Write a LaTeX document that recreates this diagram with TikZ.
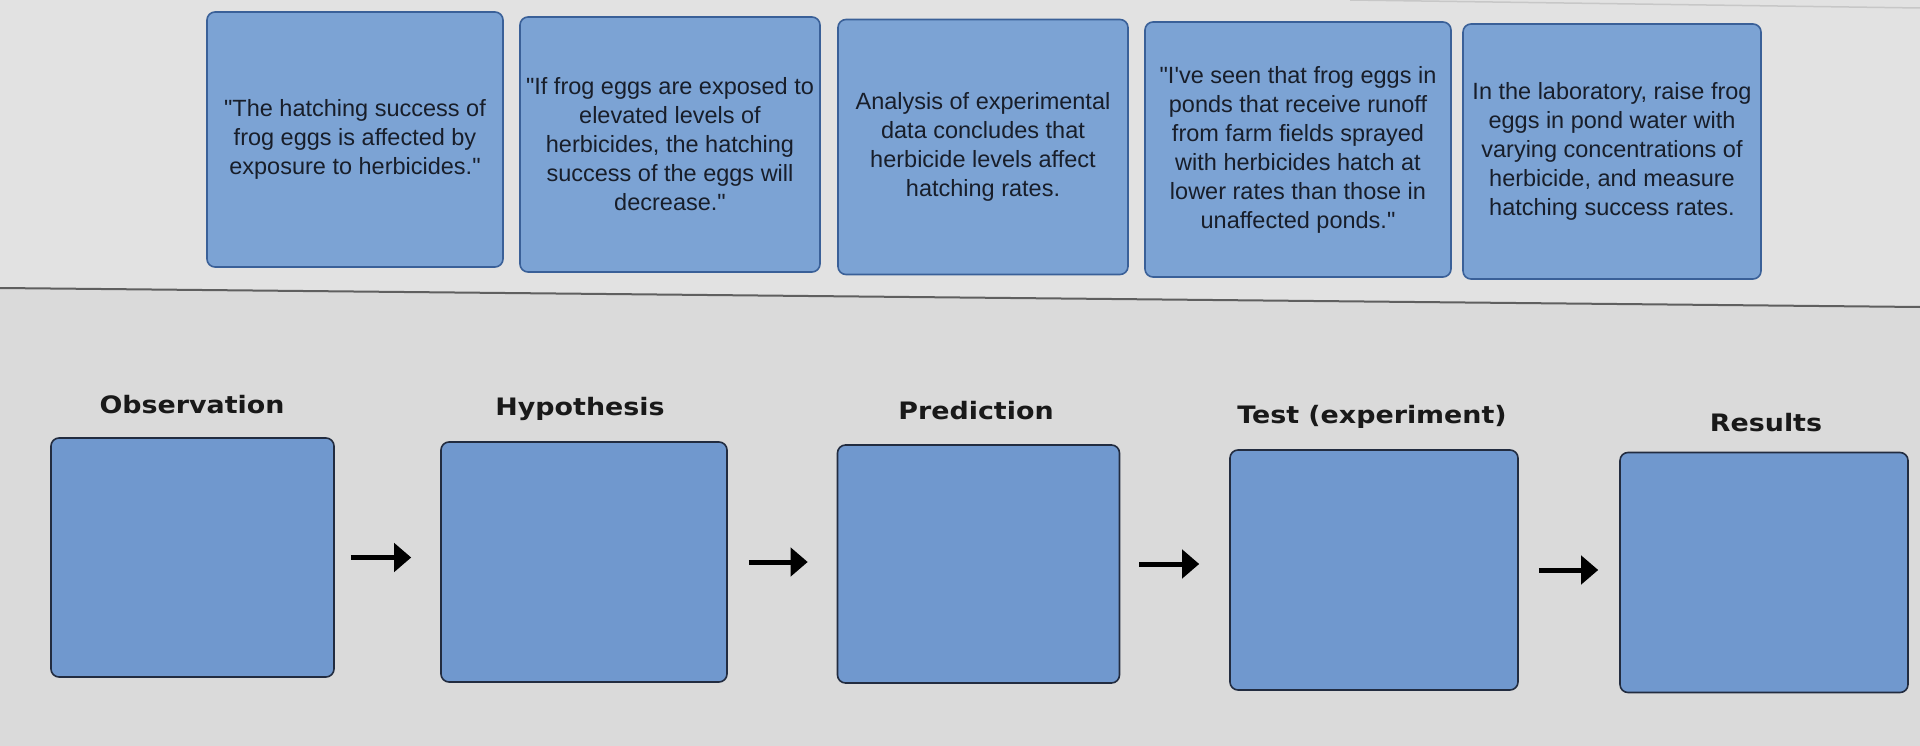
\documentclass[tikz,border=0pt]{standalone}
\usepackage{fontspec}
\setmainfont{Liberation Sans}
\newfontfamily\cardfont{Liberation Sans}
\newfontfamily\headfont[FakeStretch=1.12]{DejaVu Sans}
\usetikzlibrary{arrows.meta}
\definecolor{bgtop}{RGB}{226,226,226}
\definecolor{bgbot}{RGB}{218,218,218}
\definecolor{cardfill}{RGB}{124,163,212}
\definecolor{carddraw}{RGB}{58,96,152}
\definecolor{boxfill}{RGB}{112,152,206}
\definecolor{boxdraw}{RGB}{34,44,64}
\definecolor{cardtext}{RGB}{24,30,42}
\definecolor{sepline}{RGB}{95,95,95}
\begin{document}
\begin{tikzpicture}[x=1pt,y=-1pt,
  card/.style={draw=carddraw, line width=1.6pt, fill=cardfill, rounded corners=8pt,
    minimum width=296pt, minimum height=255pt, inner sep=0pt, align=center,
    text=cardtext, font=\cardfont\fontsize{23.5pt}{29pt}\selectfont},
  slot/.style={draw=boxdraw, line width=1.6pt, fill=boxfill, rounded corners=8pt,
    inner sep=0pt},
  head/.style={anchor=base, text=black!90, font=\headfont\bfseries\fontsize{24pt}{28pt}\selectfont},
  arr/.style={line width=5pt, -{Triangle[length=17pt,width=28pt]}}
]
\useasboundingbox (0,0) rectangle (1920,746);
\fill[bgbot] (0,0) rectangle (1920,746);
\fill[bgtop] (0,0) -- (1920,0) -- (1920,307) -- (0,288) -- cycle;
\draw[black!22, line width=1.5pt] (1350,0) -- (1920,8);
\draw[sepline, line width=2pt] (0,288) -- (1920,307);

% answer cards
\node[card] (c1) at (355,139.5) {"The hatching success of\\frog eggs is affected by\\exposure to herbicides."};
\node[card, minimum width=300pt] (c2) at (670,144.5) {"If frog eggs are exposed to\\elevated levels of\\herbicides, the hatching\\success of the eggs will\\decrease."};
\node[card, minimum width=290pt] (c3) at (983,147) {Analysis of experimental\\data concludes that\\herbicide levels affect\\hatching rates.};
\node[card, minimum width=306pt] (c4) at (1298,149.5) {"I've seen that frog eggs in\\ponds that receive runoff\\from farm fields sprayed\\with herbicides hatch at\\lower rates than those in\\unaffected ponds."};
\node[card, minimum width=298pt] (c5) at (1612,151.5) {In the laboratory, raise frog\\eggs in pond water with\\varying concentrations of\\herbicide, and measure\\hatching success rates.};

% target slots
\node[slot, minimum width=283pt, minimum height=239pt] (b1) at (192.5,557.5) {};
\node[slot, minimum width=286pt, minimum height=240pt] (b2) at (584,562) {};
\node[slot, minimum width=282pt, minimum height=238pt] (b3) at (978.5,564) {};
\node[slot, minimum width=288pt, minimum height=240pt] (b4) at (1374,570) {};
\node[slot, minimum width=288pt, minimum height=240pt] (b5) at (1764,572.5) {};

% headings
\node[head] (h1) at (192,413) {Observation};
\node[head] (h2) at (580,415) {Hypothesis};
\node[head] (h3) at (976,419) {Prediction};
\node[head] (h4) at (1372,423) {Test (experiment)};
\node[head] (h5) at (1766,431) {Results};

% arrows
\draw[arr, shorten <=16pt, shorten >=29pt] (b1.east) -- (b1.east -| b2.west);
\draw[arr, shorten <=21pt, shorten >=29pt] (b2.east) -- (b2.east -| b3.west);
\draw[arr, shorten <=19pt, shorten >=30pt] (b3.east) -- (b3.east -| b4.west);
\draw[arr, shorten <=20pt, shorten >=21pt] (b4.east) -- (b4.east -| b5.west);
\end{tikzpicture}
\end{document}
